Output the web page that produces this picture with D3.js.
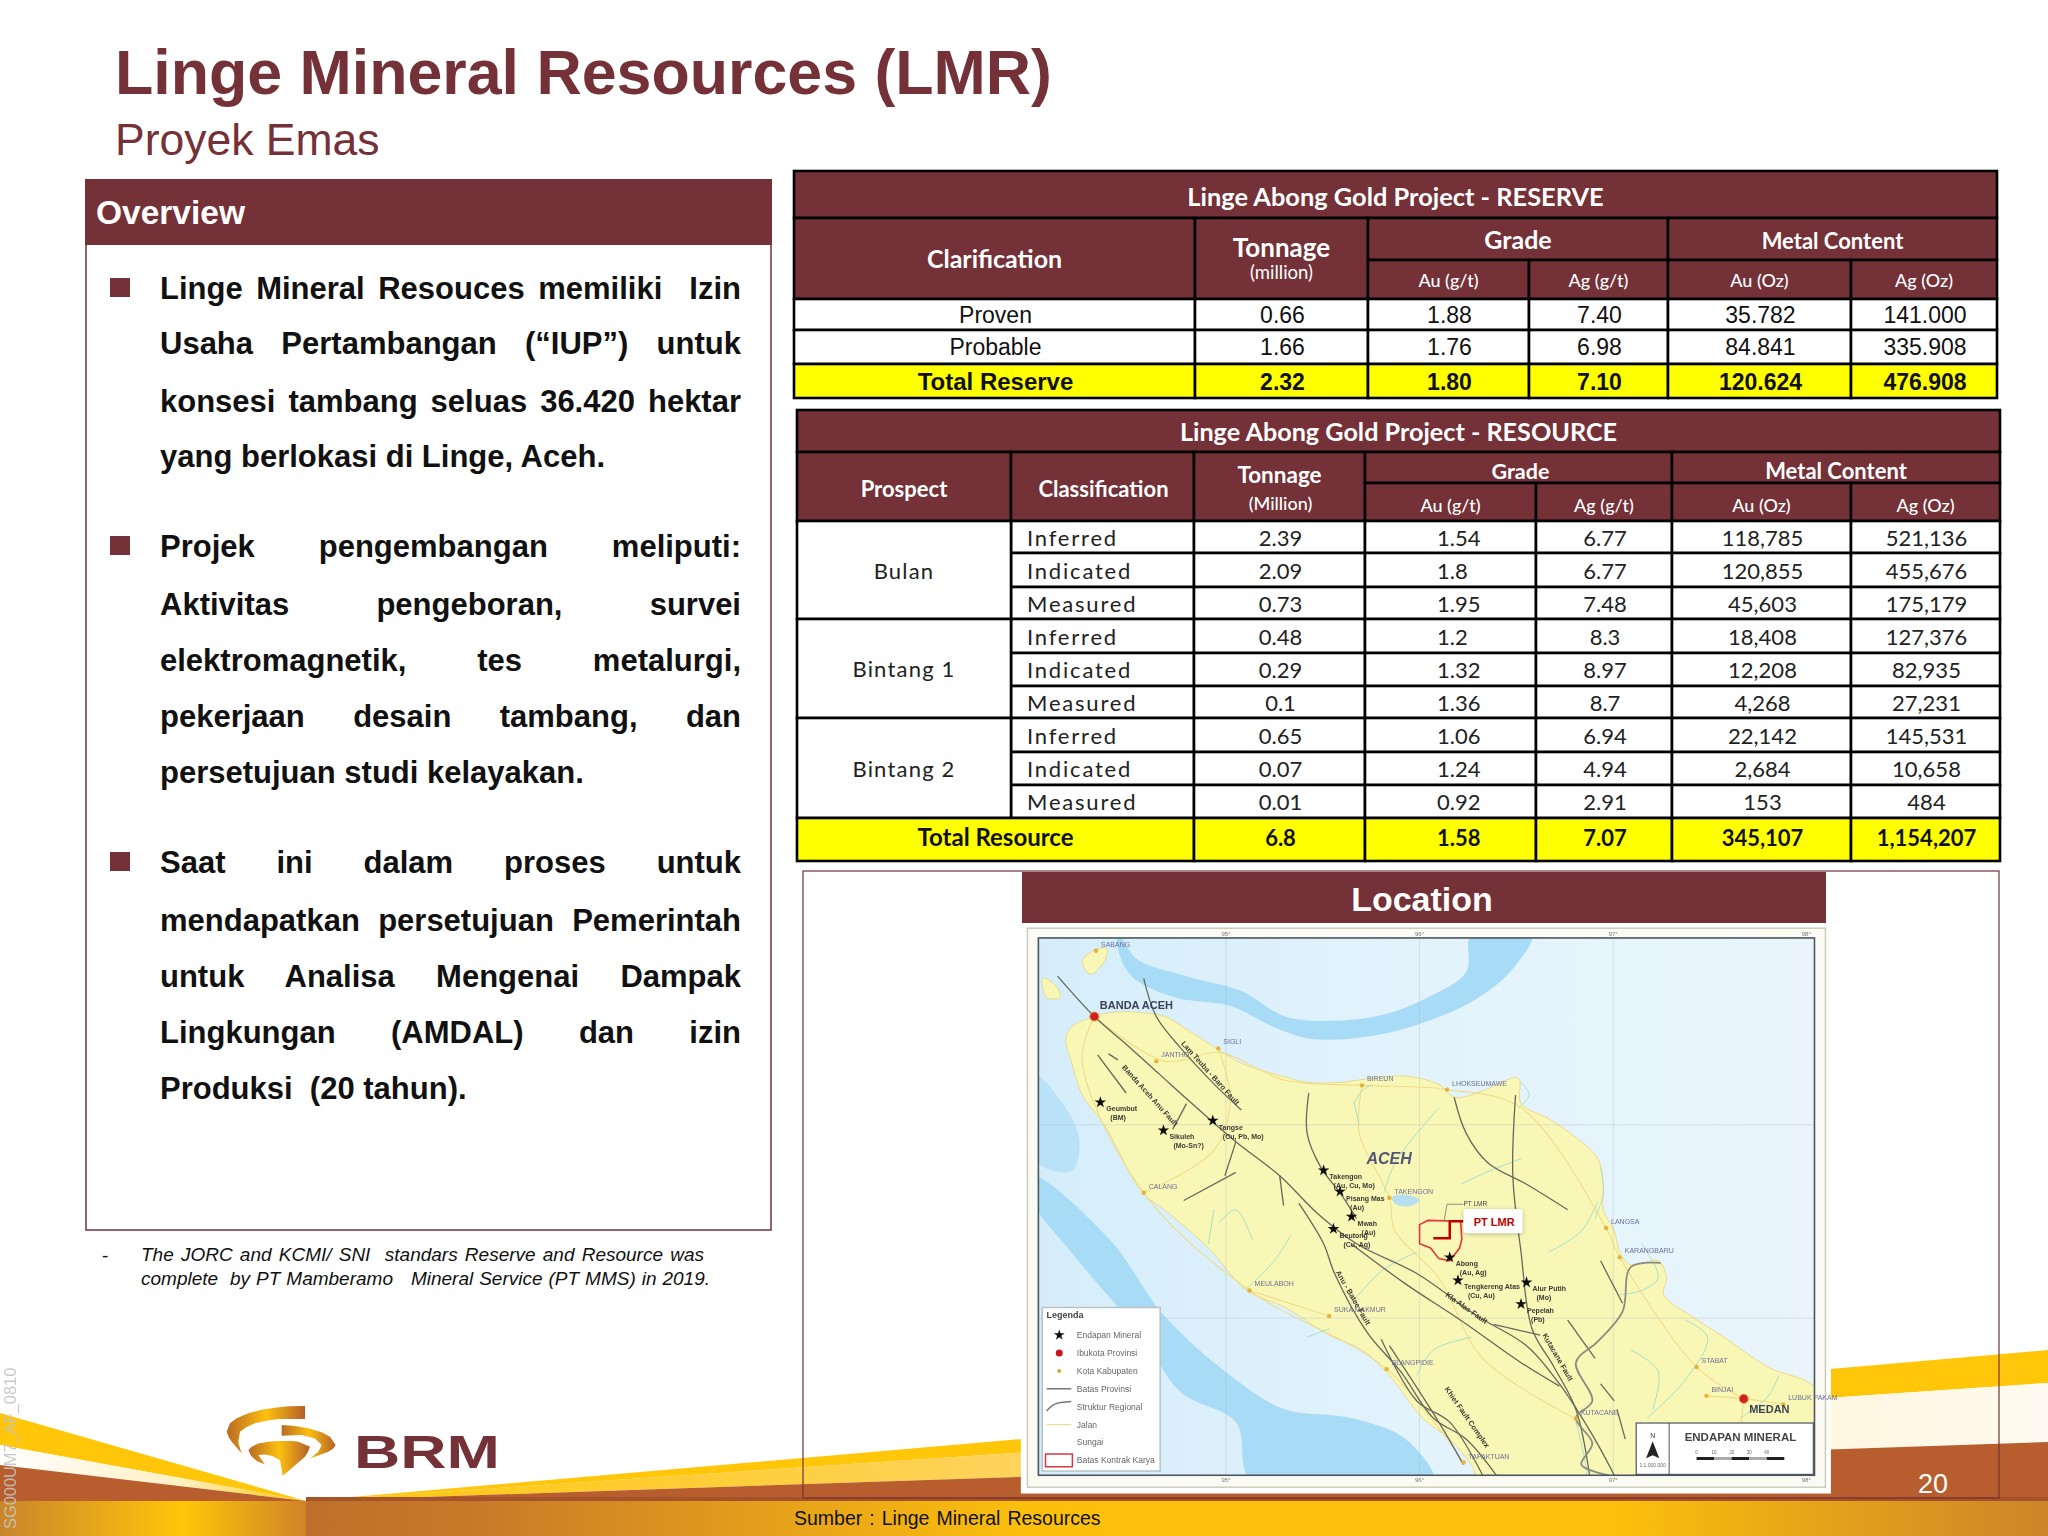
<!DOCTYPE html>
<html>
<head>
<meta charset="utf-8">
<title>Linge Mineral Resources (LMR)</title>
<script src="https://cdn.jsdelivr.net/npm/d3@7/dist/d3.min.js"></script>
<style>
  html, body { margin: 0; padding: 0; background: #fff; }
  svg { display: block; }
  text { white-space: pre; }
</style>
</head>
<body>
<svg id="slide" width="2048" height="1536" viewBox="0 0 2048 1536"></svg>
<script>
// ---- data ----
var reserveClasses = ["Proven", "Probable"];
var reserveTonnage = ["0.66", "1.66"];
var reserveAuGrade = ["1.88", "1.76"];
var reserveAgGrade = ["7.40", "6.98"];
var reserveAuOz = ["35.782", "84.841"];
var reserveAgOz = ["141.000", "335.908"];
var reserveTotal = ["Total Reserve", "2.32", "1.80", "7.10", "120.624", "476.908"];

var prospects = ["Bulan", "Bintang 1", "Bintang 2"];
var resourceClasses = ["Inferred", "Indicated", "Measured", "Inferred", "Indicated", "Measured", "Inferred", "Indicated", "Measured"];
var resourceTonnage = ["2.39", "2.09", "0.73", "0.48", "0.29", "0.1", "0.65", "0.07", "0.01"];
var resourceAuGrade = ["1.54", "1.8", "1.95", "1.2", "1.32", "1.36", "1.06", "1.24", "0.92"];
var resourceAgGrade = ["6.77", "6.77", "7.48", "8.3", "8.97", "8.7", "6.94", "4.94", "2.91"];
var resourceAuOz = ["118,785", "120,855", "45,603", "18,408", "12,208", "4,268", "22,142", "2,684", "153"];
var resourceAgOz = ["521,136", "455,676", "175,179", "127,376", "82,935", "27,231", "145,531", "10,658", "484"];
var resourceTotal = ["Total Resource", "6.8", "1.58", "7.07", "345,107", "1,154,207"];

var overviewLines = [
  ["Linge Mineral Resouces memiliki  Izin", "Usaha Pertambangan (“IUP”) untuk", "konsesi tambang seluas 36.420 hektar", "yang berlokasi di Linge, Aceh."],
  ["Projek pengembangan meliputi:", "Aktivitas pengeboran, survei", "elektromagnetik, tes metalurgi,", "pekerjaan desain tambang, dan", "persetujuan studi kelayakan."],
  ["Saat ini dalam proses untuk", "mendapatkan persetujuan Pemerintah", "untuk Analisa Mengenai Dampak", "Lingkungan (AMDAL) dan izin", "Produksi  (20 tahun)."]
];
var footnoteLines = ["The JORC and KCMI/ SNI  standars Reserve and Resource was", "complete  by PT Mamberamo   Mineral Service (PT MMS) in 2019."];

// map content, in the map's own units
var mapStars = [
  ["Geumbut", "(BM)", 183, 547], ["Sikuleh", "(Mo-Sn?)", 298, 613], ["Tangse", "(Cu, Pb, Mo)", 388, 590],
  ["Takengon", "(Au, Cu, Mo)", 590, 707], ["Pisang Mas", "(Au)", 620, 757], ["Mwah", "(Au)", 641, 816],
  ["Beutong", "(Cu, Ag)", 608, 845], ["Abong", "(Au, Ag)", 820, 912], ["Tengkereng Atas", "(Cu, Au)", 835, 966],
  ["Alur Putih", "(Mo)", 960, 971], ["Pepelah", "(Pb)", 950, 1022]
];
var mapTowns = [
  ["SABANG", 175, 190], ["SIGLI", 398, 420], ["JANTHO", 285, 450], ["BIREUN", 660, 507], ["LHOKSEUMAWE", 815, 517],
  ["CALANG", 262, 760], ["TAKENGON", 710, 772], ["LANGSA", 1105, 843], ["KARANGBARU", 1130, 912], ["MEULABOH", 455, 990],
  ["SUKA MAKMUR", 600, 1050], ["BLANGPIDIE", 705, 1175], ["STABAT", 1270, 1170], ["BINJAI", 1288, 1238],
  ["KUTACANE", 1050, 1292], ["TAPAKTUAN", 845, 1395], ["LUBUK PAKAM", 1428, 1258]
];
var mapFaultLabels = [
  ["Lam Teuba - Baro Fault", 380, 482, 48], ["Banda Aceh Anu Fault", 270, 535, 48], ["Anu - Batee Fault", 640, 1010, 60],
  ["Kla Alas Fault", 848, 1036, 35], ["Kutacane Fault", 1013, 1150, 60], ["Khiet Fault Complex", 848, 1292, 55]
];
var legendLabels = ["Endapan Mineral", "Ibukota Provinsi", "Kota Kabupaten", "Batas Provinsi", "Struktur Regional", "Jalan", "Sungai", "Batas Kontrak Karya"];

// ---- palette and fonts ----
var maroon = "#743137";
var sans = "'Liberation Sans', Arial, sans-serif";
var tableFont = "Lato, 'Open Sans', sans-serif";

var svg = d3.select("#slide");
var defs = svg.append("defs");

function gradient(id, stops) {
  var g = defs.append("linearGradient").attr("id", id).attr("x1", 0).attr("y1", 0).attr("x2", 1).attr("y2", 0);
  stops.forEach(function (s) {
    g.append("stop").attr("offset", s[0]).attr("stop-color", s[1]);
  });
}

function poly(g, pts, fill) {
  return g.append("polygon").attr("points", pts.map(function (p) { return p.join(","); }).join(" ")).attr("fill", fill);
}

gradient("stripLeft", [[0, "#c9852b"], [0.6, "#ffc60a"], [1, "#cf8526"]]);
gradient("stripRight", [[0, "#bf6f2a"], [0.1, "#c97a28"], [0.3, "#eaa818"], [0.42, "#fcc00c"], [0.75, "#fcc00c"], [1, "#cc8428"]]);
gradient("creamRight", [[0, "#ffc60a"], [0.4, "#fdd35a"], [0.85, "#fff6dc"], [1, "#fffaf0"]]);
gradient("creamLeft", [[0, "#ffffff"], [0.6, "#fff0c0"], [1, "#ffc60a"]]);
gradient("logoGold", [[0, "#b96a24"], [0.5, "#fcc00e"], [1, "#b5602a"]]);
gradient("seaFill", [[0, "#d5edfb"], [0.5, "#e3f3fc"], [1, "#e9f5fb"]]);

// ---- footer wedges ----
var footer = svg.append("g");
poly(footer, [[0, 1413], [306, 1501], [0, 1445]], "#ffc60a");
poly(footer, [[0, 1445], [306, 1501], [0, 1465]], "url(#creamLeft)");
poly(footer, [[0, 1465], [306, 1501], [0, 1501]], "#b85e2e");
poly(footer, [[306, 1501], [2048, 1350], [2048, 1383]], "#ffc60a");
poly(footer, [[306, 1501], [2048, 1383], [2048, 1442]], "url(#creamRight)");
poly(footer, [[306, 1501], [2048, 1442], [2048, 1501]], "#b85e2e");
footer.append("rect").attr("x", 306).attr("y", 1497).attr("width", 1742).attr("height", 4).attr("fill", "#a5532a");
footer.append("rect").attr("x", 0).attr("y", 1501).attr("width", 306).attr("height", 35).attr("fill", "url(#stripLeft)");
footer.append("rect").attr("x", 306).attr("y", 1501).attr("width", 1742).attr("height", 35).attr("fill", "url(#stripRight)");

// ---- logo ----
var logoX = d3.scaleLinear([0, 300], [215, 315]);
var logoY = d3.scaleLinear([0, 95], [1395, 1426.7]);
var logoLine = d3.line().x(function (d) { return logoX(d[0]); }).y(function (d) { return logoY(d[1]); }).curve(d3.curveLinearClosed);
var logoShapes = [
  [[270, 33], [220, 34], [180, 38], [140, 44], [100, 55], [65, 70], [45, 85], [35, 110], [42, 128], [50, 140], [80, 175], [72, 150], [70, 140], [75, 110], [95, 96], [120, 85], [155, 77], [190, 72], [270, 72]],
  [[200, 90], [240, 93], [280, 100], [320, 112], [345, 125], [362, 150], [355, 160], [340, 170], [285, 190], [310, 170], [320, 150], [300, 130], [260, 120], [200, 122]],
  [[100, 165], [110, 155], [130, 145], [160, 140], [190, 138], [230, 138], [250, 140], [285, 155], [278, 172], [270, 185], [235, 215], [203, 242], [195, 195], [170, 182], [150, 178], [130, 180], [150, 208], [125, 198], [108, 182]]
];
svg.append("g").selectAll("path").data(logoShapes).join("path")
  .attr("d", logoLine).attr("fill", "url(#logoGold)");
svg.append("text").attr("x", 354).attr("y", 1468).attr("textLength", 146).attr("lengthAdjust", "spacingAndGlyphs")
  .attr("font-family", sans).attr("font-weight", 700).attr("font-size", 46).attr("fill", maroon).text("BRM");

// ---- titles ----
svg.append("text").attr("x", 115).attr("y", 94).attr("font-family", sans).attr("font-weight", 700)
  .attr("font-size", 62.7).attr("fill", maroon).text("Linge Mineral Resources (LMR)");
svg.append("text").attr("x", 115).attr("y", 155).attr("font-family", sans)
  .attr("font-size", 44.5).attr("fill", maroon).text("Proyek Emas");

// ---- overview panel ----
var panel = svg.append("g");
panel.append("rect").attr("x", 86).attr("y", 180).attr("width", 685).attr("height", 1050)
  .attr("fill", "#fff").attr("stroke", maroon).attr("stroke-width", 1.5);
panel.append("rect").attr("x", 85).attr("y", 179).attr("width", 687).attr("height", 66).attr("fill", maroon);
panel.append("text").attr("x", 96).attr("y", 224).attr("font-family", sans).attr("font-weight", 700)
  .attr("font-size", 33.5).attr("fill", "#fff").text("Overview");

var paragraphTops = [299, 557, 873];
var lineGaps = [[0, 55, 113, 168], [0, 58, 114, 170, 226], [0, 58, 114, 170, 226]];
overviewLines.forEach(function (lines, p) {
  panel.append("rect").attr("x", 110).attr("y", paragraphTops[p] - 21).attr("width", 20).attr("height", 19).attr("fill", maroon);
  lines.forEach(function (line, i) {
    var t = panel.append("text").attr("x", 160).attr("y", paragraphTops[p] + lineGaps[p][i])
      .attr("font-family", sans).attr("font-weight", 700).attr("font-size", 31).attr("fill", "#111").text(line);
    if (i < lines.length - 1) {
      // justify the line to the panel's text width
      var gaps = line.split(" ").length - 1;
      var w = t.node().getComputedTextLength();
      t.attr("word-spacing", (581 - w) / gaps);
    }
  });
});

// footnote
svg.append("text").attr("x", 102).attr("y", 1262).attr("font-family", sans).attr("font-size", 19).attr("fill", "#111").text("-");
var footnoteWidths = [563, 569];
svg.append("g").selectAll("text").data(footnoteLines).join("text")
  .attr("x", 141).attr("y", function (d, i) { return 1261 + i * 24; })
  .attr("font-family", sans).attr("font-style", "italic").attr("font-size", 19).attr("fill", "#111")
  .text(function (d) { return d; })
  .attr("word-spacing", function (d, i) {
    return (footnoteWidths[i] - this.getComputedTextLength()) / (d.split(" ").length - 1);
  });

// ---- tables ----
function addCell(g, x0, x1, y0, y1, fill, sw) {
  g.append("rect").attr("x", x0).attr("y", y0).attr("width", x1 - x0).attr("height", y1 - y0)
    .attr("fill", fill).attr("stroke", "#000").attr("stroke-width", sw);
}

function addText(g, x, y, label, size, weight, color, family, anchor, spacing) {
  g.append("text").attr("x", x).attr("y", y).attr("dy", "0.35em")
    .attr("text-anchor", anchor || "middle")
    .attr("font-family", family || tableFont).attr("font-size", size).attr("font-weight", weight || 400)
    .attr("letter-spacing", spacing || 0).attr("fill", color || "#111").text(label);
}

// reserve table
var resX = d3.scaleOrdinal(d3.range(7), [794, 1195, 1368, 1529, 1668, 1851, 1997]);
var resY = d3.scaleOrdinal(d3.range(7), [171, 218, 260, 299, 330, 364, 398]);
var reserve = svg.append("g");
function resCell(c0, c1, r0, r1, fill) { addCell(reserve, resX(c0), resX(c1), resY(r0), resY(r1), fill, 2.6); }
function resMid(c0, c1) { return (resX(c0) + resX(c1)) / 2; }

resCell(0, 6, 0, 1, maroon);
resCell(0, 1, 1, 3, maroon);
resCell(1, 2, 1, 3, maroon);
resCell(2, 4, 1, 2, maroon);
resCell(4, 6, 1, 2, maroon);
d3.range(2, 6).forEach(function (c) { resCell(c, c + 1, 2, 3, maroon); });
addText(reserve, resMid(0, 6), 197, "Linge Abong Gold Project - RESERVE", 25.4, 700, "#fff");
addText(reserve, resMid(0, 1), 259, "Clarification", 25, 700, "#fff");
addText(reserve, resMid(1, 2), 248, "Tonnage", 26, 700, "#fff");
addText(reserve, resMid(1, 2), 273, "(million)", 18.5, 400, "#fff");
addText(reserve, resMid(2, 4), 240, "Grade", 25, 700, "#fff");
addText(reserve, resMid(4, 6), 241, "Metal Content", 22, 700, "#fff");
["Au (g/t)", "Ag (g/t)", "Au (Oz)", "Ag (Oz)"].forEach(function (h, i) {
  addText(reserve, resMid(i + 2, i + 3), 281, h, 18, 500, "#fff");
});
var reserveColumns = [reserveClasses, reserveTonnage, reserveAuGrade, reserveAgGrade, reserveAuOz, reserveAgOz];
reserveClasses.forEach(function (name, r) {
  reserveColumns.forEach(function (col, c) {
    resCell(c, c + 1, r + 3, r + 4, "#fff");
    addText(reserve, resMid(c, c + 1) + 1, (resY(r + 3) + resY(r + 4)) / 2, col[r], 23, 400, "#111", sans);
  });
});
reserveTotal.forEach(function (v, c) {
  resCell(c, c + 1, 5, 6, "#ffff00");
  addText(reserve, resMid(c, c + 1) + 1, (resY(5) + resY(6)) / 2 + 1, v, c === 0 ? 24 : 23, 700, "#111", sans);
});

// resource table
var sourceX = d3.scaleOrdinal(d3.range(8), [797, 1011, 1194, 1365, 1536, 1672, 1851, 2000]);
var rowEdges = [410, 452, 483, 521, 553, 587, 619, 653, 686, 718, 752, 785, 818, 861];
var sourceY = d3.scaleOrdinal(d3.range(rowEdges.length), rowEdges);
var resource = svg.append("g");
function srcCell(c0, c1, r0, r1, fill) { addCell(resource, sourceX(c0), sourceX(c1), sourceY(r0), sourceY(r1), fill, 2.6); }
function srcMid(c0, c1) { return (sourceX(c0) + sourceX(c1)) / 2; }

srcCell(0, 7, 0, 1, maroon);
srcCell(0, 1, 1, 3, maroon);
srcCell(1, 2, 1, 3, maroon);
srcCell(2, 3, 1, 3, maroon);
srcCell(3, 5, 1, 2, maroon);
srcCell(5, 7, 1, 2, maroon);
d3.range(3, 7).forEach(function (c) { srcCell(c, c + 1, 2, 3, maroon); });
addText(resource, srcMid(0, 7), 432, "Linge Abong Gold Project - RESOURCE", 25.2, 700, "#fff");
addText(resource, srcMid(0, 1), 489, "Prospect", 22, 700, "#fff");
addText(resource, srcMid(1, 2) + 1, 489, "Classification", 22, 700, "#fff");
addText(resource, srcMid(2, 3), 475, "Tonnage", 22.5, 700, "#fff");
addText(resource, srcMid(2, 3) + 1, 504, "(Million)", 18, 500, "#fff");
addText(resource, srcMid(3, 5) + 2, 471, "Grade", 21.5, 700, "#fff");
addText(resource, srcMid(5, 7), 471, "Metal Content", 22, 700, "#fff");
["Au (g/t)", "Ag (g/t)", "Au (Oz)", "Ag (Oz)"].forEach(function (h, i) {
  addText(resource, srcMid(i + 3, i + 4), 506, h, 18, 500, "#fff");
});

var resourceColumns = [resourceTonnage, resourceAuGrade, resourceAgGrade, resourceAuOz, resourceAgOz];
resourceClasses.forEach(function (name, r) {
  var mid = (sourceY(r + 3) + sourceY(r + 4)) / 2 + 1;
  srcCell(1, 2, r + 3, r + 4, "#fff");
  addText(resource, sourceX(1) + 16, mid, name, 22, 400, "#222", tableFont, "start", 1.8);
  resourceColumns.forEach(function (col, c) {
    srcCell(c + 2, c + 3, r + 3, r + 4, "#fff");
    if (c === 1) {
      // this column sits left aligned in the source table
      addText(resource, 1437, mid, col[r], 22, 400, "#222", tableFont, "start");
    } else {
      addText(resource, srcMid(c + 2, c + 3) + 1, mid, col[r], 22, 400, "#222");
    }
  });
});
prospects.forEach(function (name, i) {
  srcCell(0, 1, i * 3 + 3, i * 3 + 6, "#fff");
  addText(resource, srcMid(0, 1), (sourceY(i * 3 + 3) + sourceY(i * 3 + 6)) / 2 + 1, name, 22, 400, "#222", tableFont, "middle", 1.2);
});
srcCell(0, 2, 12, 13, "#ffff00");
addText(resource, srcMid(0, 2), 838, resourceTotal[0], 24, 700, "#111");
resourceTotal.slice(1).forEach(function (v, i) {
  srcCell(i + 2, i + 3, 12, 13, "#ffff00");
  if (i === 1) {
    addText(resource, 1437, 838, v, 22, 700, "#111", tableFont, "start");
  } else {
    addText(resource, srcMid(i + 2, i + 3) + 1, 838, v, 22, 700, "#111");
  }
});

// ---- location panel ----
svg.append("rect").attr("x", 803).attr("y", 871).attr("width", 1196).attr("height", 627)
  .attr("fill", "none").attr("stroke", maroon).attr("stroke-width", 1.2);
svg.append("rect").attr("x", 1022).attr("y", 872).attr("width", 804).attr("height", 51).attr("fill", maroon);
svg.append("text").attr("x", 1422).attr("y", 911).attr("text-anchor", "middle").attr("font-family", sans)
  .attr("font-weight", 700).attr("font-size", 34).attr("fill", "#fff").text("Location");

// map units come from the crop used to read it
var mx = d3.scaleLinear([0, 1568], [1000, 1860]);
var my = d3.scaleLinear([0, 1568], [870, 1536]);
var uLine = d3.line().x(function (d) { return mx(d[0]); }).y(function (d) { return my(d[1]); });
var smooth = d3.line().x(function (d) { return mx(d[0]); }).y(function (d) { return my(d[1]); }).curve(d3.curveCatmullRom);
var smoothClosed = d3.line().x(function (d) { return mx(d[0]); }).y(function (d) { return my(d[1]); }).curve(d3.curveCatmullRomClosed);

var landOutline = [[172, 345], [205, 335], [250, 335], [300, 345], [340, 375], [400, 425], [440, 455], [500, 480], [560, 500], [620, 500], [680, 490], [740, 485], [800, 505], [830, 535], [880, 520], [945, 490], [950, 550], [1000, 585], [1050, 630], [1090, 680], [1100, 740], [1100, 800], [1120, 850], [1130, 900], [1150, 930], [1200, 920], [1215, 960], [1210, 1000], [1260, 1050], [1320, 1100], [1400, 1170], [1490, 1225], [1500, 1450], [880, 1450], [860, 1400], [820, 1340], [770, 1290], [710, 1190], [660, 1130], [600, 1095], [520, 1030], [450, 990], [380, 890], [300, 800], [260, 760], [190, 600], [150, 530], [130, 450], [120, 400], [130, 370]];
var seaBandNorth = [[215, 185], [240, 250], [320, 300], [420, 320], [500, 370], [570, 398], [680, 390], [770, 360], [860, 310], [930, 240], [970, 150], [860, 150], [850, 240], [780, 300], [700, 340], [610, 355], [520, 345], [440, 285], [340, 250], [250, 210], [215, 150]];
var seaBandWest = [[60, 720], [200, 870], [300, 1050], [430, 1200], [520, 1270], [640, 1290], [740, 1340], [790, 1440], [460, 1440], [430, 1300], [330, 1230], [260, 1100], [130, 900], [60, 780]];
var seaBandWestUpper = [[60, 480], [120, 560], [145, 640], [130, 710], [60, 680]];
var sabangIsland = [[150, 215], [170, 190], [195, 185], [190, 215], [165, 245]];
var breuehIsland = [[78, 255], [100, 270], [110, 300], [85, 300]];
var lakeOutline = [[715, 770], [745, 765], [765, 778], [745, 792], [720, 785]];
var contractOutline = [[765, 835], [780, 825], [840, 827], [842, 870], [838, 890], [820, 920], [800, 915], [785, 890], [765, 880]];

var faults = [
  [[105, 250], [172, 345], [230, 410], [290, 480], [350, 550], [430, 640], [510, 720], [580, 810], [650, 880], [760, 950], [870, 1050], [960, 1120], [1020, 1210], [1080, 1330], [1120, 1425]],
  [[262, 255], [285, 345], [330, 420], [395, 510], [440, 565]],
  [[178, 435], [230, 525]], [[198, 433], [215, 447]], [[315, 610], [340, 550]],
  [[430, 640], [410, 720]], [[335, 778], [430, 712]], [[510, 720], [517, 790]],
  [[563, 525], [560, 620], [585, 700], [620, 760], [650, 820]],
  [[545, 785], [590, 880], [610, 950], [670, 1090], [730, 1180], [790, 1290], [850, 1340], [905, 1425]],
  [[640, 880], [740, 975], [840, 1060], [950, 1160], [1020, 1215]],
  [[828, 535], [850, 620], [890, 690], [960, 740], [1035, 800]],
  [[940, 530], [935, 720], [950, 900], [970, 1080], [1010, 1170], [1050, 1270], [1075, 1425]],
  [[1095, 920], [1135, 1020]], [[1035, 1060], [1085, 1150]], [[1095, 1210], [1120, 1250]], [[1125, 1270], [1140, 1340]],
  [[695, 1105], [760, 1250], [820, 1300], [880, 1425]], [[710, 1120], [800, 1300], [845, 1400]], [[900, 1070], [985, 1095]]
];
var provinceLine = [[1205, 925], [1150, 935], [1135, 1040], [1090, 1110], [1050, 1160], [1080, 1250], [1050, 1290], [1080, 1350], [1060, 1400], [1110, 1425]];
var rivers = [
  [[645, 550], [660, 520], [680, 505]], [[655, 600], [645, 545]], [[945, 560], [965, 530], [950, 500]], [[840, 740], [890, 710], [950, 680]],
  [[1095, 700], [1100, 760], [1085, 820]], [[1130, 1000], [1170, 990], [1200, 960], [1170, 880]], [[1180, 1290], [1250, 1200], [1290, 1100], [1250, 1060]],
  [[380, 880], [390, 800]], [[400, 830], [430, 800], [460, 870]], [[450, 985], [500, 920], [530, 860]], [[600, 1080], [560, 1100]],
  [[1050, 1300], [1065, 1380], [1070, 1425]], [[1350, 1290], [1400, 1240], [1420, 1190]],
  [[700, 760], [720, 690], [760, 620], [800, 560]], [[760, 900], [700, 940], [640, 1020]], [[1000, 900], [1060, 850], [1090, 780]],
  [[860, 1100], [790, 1130], [760, 1190]], [[1150, 1130], [1200, 1180], [1190, 1270]]
];
var roads = [
  [[172, 345], [300, 450], [400, 430], [520, 495], [660, 507], [815, 517], [950, 560], [1105, 843], [1130, 912], [1270, 1170], [1356, 1245]],
  [[172, 345], [150, 450], [262, 760], [455, 990], [705, 1175], [845, 1395]],
  [[660, 507], [655, 620], [710, 772], [720, 850], [800, 960], [880, 1150], [1050, 1292]],
  [[1288, 1238], [1356, 1245], [1428, 1258]], [[1356, 1245], [1350, 1320]], [[398, 420], [420, 540], [390, 660], [262, 760]], [[600, 1050], [455, 990]]
];

defs.append("clipPath").attr("id", "mapClip").append("rect")
  .attr("x", mx(70)).attr("y", my(160)).attr("width", mx(1485) - mx(70)).attr("height", my(1425) - my(160));
var blur = defs.append("filter").attr("id", "soft");
blur.append("feGaussianBlur").attr("stdDeviation", 0.55);

svg.append("rect").attr("x", mx(38)).attr("y", my(135)).attr("width", mx(1515) - mx(38)).attr("height", my(1468) - my(135)).attr("fill", "#fff");
svg.append("rect").attr("x", mx(50)).attr("y", my(137)).attr("width", mx(1505) - mx(50)).attr("height", my(1453) - my(137))
  .attr("fill", "#fbfbf4").attr("stroke", "#c9cdb8").attr("stroke-width", 1.5);

var map = svg.append("g").attr("filter", "url(#soft)");
var inner = map.append("g").attr("clip-path", "url(#mapClip)");
inner.append("rect").attr("x", mx(70)).attr("y", my(160)).attr("width", mx(1485) - mx(70)).attr("height", my(1425) - my(160)).attr("fill", "url(#seaFill)");
[seaBandNorth, seaBandWest].forEach(function (band) {
  inner.append("path").attr("d", smoothClosed(band)).attr("fill", "#a8dbf6");
});
inner.append("path").attr("d", smoothClosed(seaBandWestUpper)).attr("fill", "#b9e2f8");
[sabangIsland, breuehIsland, landOutline].forEach(function (shape) {
  inner.append("path").attr("d", smoothClosed(shape)).attr("fill", "#f9f7b6").attr("stroke", "#ead98e").attr("stroke-width", 1);
});
inner.append("path").attr("d", smoothClosed(lakeOutline)).attr("fill", "#b6e0f0");

// graticule
[412, 765, 1118].forEach(function (u) {
  inner.append("path").attr("d", uLine([[u, 160], [u, 1425]])).attr("stroke", "#a9b6bd").attr("stroke-width", 0.5).attr("opacity", 0.7);
});
[600, 1055].forEach(function (v) {
  inner.append("path").attr("d", uLine([[70, v], [1485, v]])).attr("stroke", "#a9b6bd").attr("stroke-width", 0.5).attr("opacity", 0.7);
});

inner.selectAll("path.road").data(roads).join("path").attr("class", "road")
  .attr("d", smooth).attr("fill", "none").attr("stroke", "#f0dc88").attr("stroke-width", 1.1);
inner.selectAll("path.river").data(rivers).join("path").attr("class", "river")
  .attr("d", smooth).attr("fill", "none").attr("stroke", "#a5e0c8").attr("stroke-width", 1);
inner.selectAll("path.fault").data(faults).join("path").attr("class", "fault")
  .attr("d", smooth).attr("fill", "none").attr("stroke", "#66685c").attr("stroke-width", 1.3);
inner.append("path").attr("d", smooth(provinceLine)).attr("fill", "none").attr("stroke", "#8b8d82").attr("stroke-width", 1.8);

// contract area
inner.append("path").attr("d", uLine(contractOutline) + "Z").attr("fill", "none").attr("stroke", "#e0383a").attr("stroke-width", 1.6);

// towns
var towns = map.append("g");
towns.selectAll("circle").data(mapTowns).join("circle")
  .attr("cx", function (d) { return mx(d[1]); }).attr("cy", function (d) { return my(d[2]); })
  .attr("r", 2.2).attr("fill", "#e5b23a");
towns.selectAll("text").data(mapTowns).join("text")
  .attr("x", function (d) { return mx(d[1]) + 5; }).attr("y", function (d) { return my(d[2]) - 4; })
  .attr("font-family", sans).attr("font-size", 7).attr("fill", "#6b6f98")
  .text(function (d) { return d[0]; });

// capitals
[[172, 345, "BANDA ACEH", 182, 328], [1356, 1245, "MEDAN", 1366, 1278]].forEach(function (c) {
  map.append("circle").attr("cx", mx(c[0])).attr("cy", my(c[1])).attr("r", 4.5).attr("fill", "#d31f26").attr("stroke", "#d99a2e").attr("stroke-width", 1);
  map.append("text").attr("x", mx(c[3])).attr("y", my(c[4])).attr("font-family", sans).attr("font-weight", 700)
    .attr("font-size", 11).attr("fill", "#3c3f55").text(c[2]);
});
map.append("text").attr("x", mx(668)).attr("y", my(692)).attr("font-family", sans).attr("font-weight", 700).attr("font-style", "italic")
  .attr("font-size", 16).attr("fill", "#52567a").text("ACEH");

// fault names
map.selectAll("text.faultName").data(mapFaultLabels).join("text").attr("class", "faultName")
  .attr("text-anchor", "middle").attr("font-family", sans).attr("font-weight", 700).attr("font-size", 7.5).attr("fill", "#3a3a34")
  .attr("transform", function (d) { return "translate(" + mx(d[1]) + "," + my(d[2]) + ") rotate(" + d[3] + ")"; })
  .text(function (d) { return d[0]; });

// mineral deposits
var starPath = d3.symbol().type(d3.symbolStar).size(42)();
var deposit = map.selectAll("g.deposit").data(mapStars).join("g").attr("class", "deposit")
  .attr("transform", function (d) { return "translate(" + mx(d[2]) + "," + my(d[3]) + ")"; });
deposit.append("path").attr("d", starPath).attr("fill", "#111");
deposit.append("text").attr("x", 6).attr("y", 9).attr("font-family", sans).attr("font-weight", 700).attr("font-size", 7).attr("fill", "#3a3a34").text(function (d) { return d[0]; });
deposit.append("text").attr("x", 10).attr("y", 18).attr("font-family", sans).attr("font-weight", 700).attr("font-size", 7).attr("fill", "#3a3a34").text(function (d) { return d[1]; });

// degree ticks around the frame
map.append("rect").attr("x", mx(70)).attr("y", my(160)).attr("width", mx(1485) - mx(70)).attr("height", my(1425) - my(160))
  .attr("fill", "none").attr("stroke", "#4b5660").attr("stroke-width", 1.6);
[["95°", 412], ["96°", 765], ["97°", 1118], ["98°", 1470]].forEach(function (t) {
  [150, 1437].forEach(function (v) {
    map.append("text").attr("x", mx(t[1])).attr("y", my(v) + 2).attr("text-anchor", "middle").attr("font-family", sans).attr("font-size", 6).attr("fill", "#777").text(t[0]);
  });
});

// legend box
var legend = map.append("g");
legend.append("rect").attr("x", mx(77)).attr("y", my(1030)).attr("width", mx(292) - mx(77)).attr("height", my(1415) - my(1030))
  .attr("fill", "#fff").attr("stroke", "#b9c2c6").attr("stroke-width", 1.5);
legend.append("text").attr("x", mx(85)).attr("y", my(1055)).attr("font-family", sans).attr("font-weight", 700).attr("font-size", 9).attr("fill", "#444").text("Legenda");
var legendY = d3.scalePoint(legendLabels, [1095, 1390]);
legend.selectAll("text.item").data(legendLabels).join("text").attr("class", "item")
  .attr("x", mx(140)).attr("y", function (d) { return my(legendY(d)) + 3; })
  .attr("font-family", sans).attr("font-size", 8.5).attr("fill", "#666").text(function (d) { return d; });
legend.append("path").attr("transform", "translate(" + mx(108) + "," + my(legendY("Endapan Mineral")) + ")").attr("d", d3.symbol().type(d3.symbolStar).size(36)()).attr("fill", "#111");
legend.append("circle").attr("cx", mx(108)).attr("cy", my(legendY("Ibukota Provinsi"))).attr("r", 3.5).attr("fill", "#c8161d");
legend.append("circle").attr("cx", mx(108)).attr("cy", my(legendY("Kota Kabupaten"))).attr("r", 2).attr("fill", "#d9a72e");
legend.append("path").attr("d", uLine([[85, legendY("Batas Provinsi")], [130, legendY("Batas Provinsi")]])).attr("stroke", "#777").attr("stroke-width", 1.5);
legend.append("path").attr("d", smooth([[85, legendY("Struktur Regional") + 10], [100, legendY("Struktur Regional") - 6], [130, legendY("Struktur Regional") - 12]])).attr("fill", "none").attr("stroke", "#777").attr("stroke-width", 1.5);
legend.append("path").attr("d", uLine([[85, legendY("Jalan")], [130, legendY("Jalan")]])).attr("stroke", "#eadf8e").attr("stroke-width", 1.2);
legend.append("rect").attr("x", mx(83)).attr("y", my(legendY("Batas Kontrak Karya") - 15)).attr("width", mx(132) - mx(83)).attr("height", my(1405) - my(1375))
  .attr("fill", "#fff").attr("stroke", "#d9364a").attr("stroke-width", 1.5);

// title block
var block = map.append("g");
block.append("rect").attr("x", mx(1160)).attr("y", my(1302)).attr("width", mx(1483) - mx(1160)).attr("height", my(1423) - my(1302))
  .attr("fill", "#fff").attr("stroke", "#4b5660").attr("stroke-width", 1.2);
block.append("path").attr("d", uLine([[1220, 1302], [1220, 1423]])).attr("stroke", "#4b5660").attr("stroke-width", 1);
block.append("text").attr("x", mx(1350)).attr("y", my(1345)).attr("text-anchor", "middle").attr("font-family", sans).attr("font-weight", 700)
  .attr("font-size", 11.5).attr("fill", "#444").text("ENDAPAN MINERAL");
block.append("text").attr("x", mx(1190)).attr("y", my(1338)).attr("text-anchor", "middle").attr("font-family", sans).attr("font-size", 7).attr("fill", "#444").text("N");
block.append("path").attr("d", uLine([[1190, 1345], [1178, 1385], [1190, 1378], [1202, 1385]]) + "Z").attr("fill", "#222");
block.append("text").attr("x", mx(1190)).attr("y", my(1405)).attr("text-anchor", "middle").attr("font-family", sans).attr("font-size", 5).attr("fill", "#666").text("1:1.000.000");
var scaleTicks = d3.range(1270, 1430, 32);
block.selectAll("rect.scaleBit").data(scaleTicks).join("rect").attr("class", "scaleBit")
  .attr("x", function (d) { return mx(d); }).attr("y", my(1382)).attr("width", mx(32) - mx(0)).attr("height", 3)
  .attr("fill", function (d, i) { return i % 2 === 0 ? "#222" : "#aaa"; });
block.selectAll("text.scaleNum").data(scaleTicks).join("text").attr("class", "scaleNum")
  .attr("x", function (d) { return mx(d); }).attr("y", my(1376)).attr("text-anchor", "middle").attr("font-family", sans).attr("font-size", 4.5).attr("fill", "#666")
  .text(function (d, i) { return i * 10; });

// PT LMR small label and callout on top, these stay sharp
map.append("path").attr("d", uLine([[810, 825], [815, 787], [845, 787]])).attr("fill", "none").attr("stroke", "#666").attr("stroke-width", 0.7);
map.append("text").attr("x", mx(845)).attr("y", my(790)).attr("font-family", sans).attr("font-size", 6.5).attr("fill", "#444").text("PT LMR");

svg.append("path").attr("d", uLine([[845, 827], [820, 827], [820, 867], [790, 867]])).attr("fill", "none").attr("stroke", "#c00000").attr("stroke-width", 2.5);
svg.append("rect").attr("x", mx(845)).attr("y", my(798)).attr("width", mx(953) - mx(845)).attr("height", my(855) - my(798)).attr("rx", 3)
  .attr("fill", "#fff").style("filter", "drop-shadow(0 1px 2px rgba(0,0,0,0.25))");
svg.append("text").attr("x", mx(901)).attr("y", my(838)).attr("text-anchor", "middle").attr("font-family", sans).attr("font-weight", 700)
  .attr("font-size", 11).attr("fill", "#c00000").text("PT LMR");

// ---- footer texts ----
svg.append("text").attr("x", 794).attr("y", 1525).attr("font-family", sans).attr("font-size", 19.5).attr("word-spacing", 1.6).attr("fill", "#111").text("Sumber : Linge Mineral Resources");
svg.append("text").attr("x", 1933).attr("y", 1493).attr("text-anchor", "middle").attr("font-family", sans).attr("font-size", 27).attr("fill", "#fff").text("20");
svg.append("text").attr("transform", "translate(16,1529) rotate(-90)").attr("font-family", sans).attr("font-size", 16.4)
  .attr("fill", "#c4c4c4").attr("opacity", 0.9).text("SG000UM7_AF_0810");
</script>
</body>
</html>
